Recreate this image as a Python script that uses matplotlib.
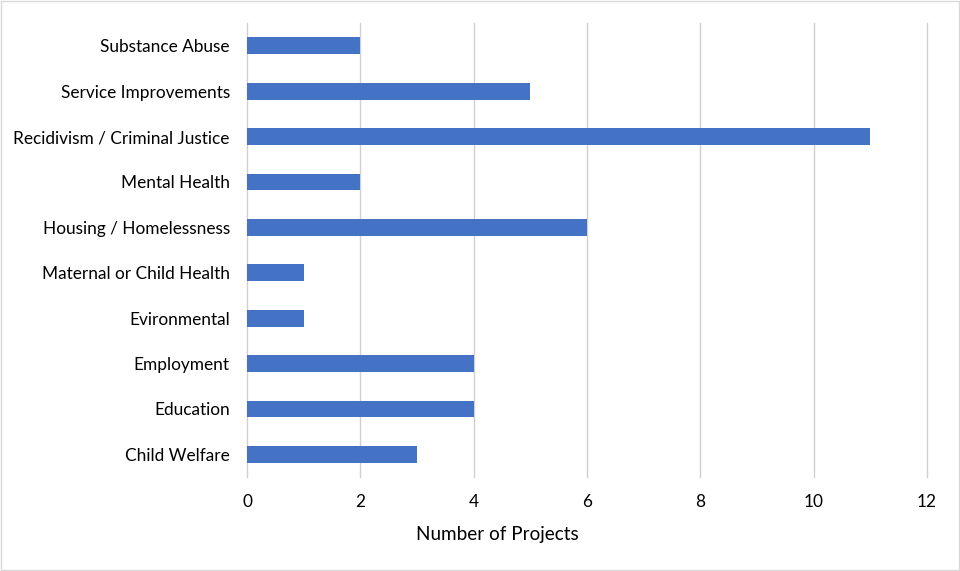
import matplotlib
matplotlib.use("Agg")
import matplotlib.pyplot as plt
from matplotlib.patches import Rectangle

# data (bottom to top)
categories = [
    "Child Welfare",
    "Education",
    "Employment",
    "Evironmental",
    "Maternal or Child Health",
    "Housing / Homelessness",
    "Mental Health",
    "Recidivism / Criminal Justice",
    "Service Improvements",
    "Substance Abuse",
]
projects = [3, 4, 4, 1, 1, 6, 2, 11, 5, 2]

plt.rcParams["font.family"] = ["Lato", "DejaVu Sans"]

fig = plt.figure(figsize=(9.6, 5.71), dpi=100)
ax = fig.add_axes([0.2573, 0.1646, 0.9656 - 0.2573, 0.9597 - 0.1646])

ax.barh(range(len(categories)), projects, height=0.37, color="#4472c4", zorder=3)

ax.set_xlim(0, 12)
ax.set_ylim(-0.5, len(categories) - 0.5)
ax.set_xticks(range(0, 13, 2))
ax.set_yticks(range(len(categories)))
ax.set_yticklabels(categories)
ax.tick_params(axis="both", length=0, labelsize=12.4, colors="black")
ax.tick_params(axis="x", pad=12)
ax.tick_params(axis="y", pad=12.4)
ax.grid(axis="x", color="#d0d0d0", linewidth=1, zorder=0)
for gl in ax.get_xgridlines():
    gl.set_clip_on(False)
for s in ax.spines.values():
    s.set_visible(False)
ax.set_xlabel("Number of Projects", fontsize=13.6)
ax.xaxis.set_label_coords((497 - 247) / 680, -0.108)

fig.patches.append(Rectangle((0.001, 0.001), 0.998, 0.997, transform=fig.transFigure,
                             fill=False, edgecolor="#d9d9d9", linewidth=1))

fig.savefig("out.png", dpi=100)
